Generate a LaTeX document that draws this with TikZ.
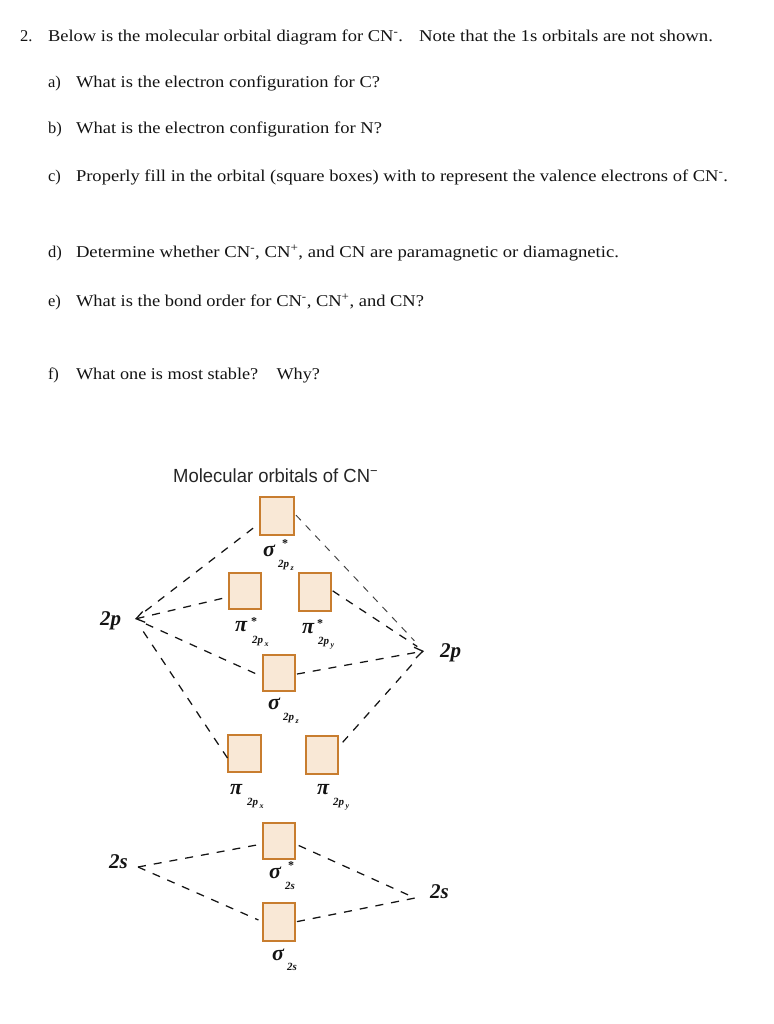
\documentclass[tikz,border=0pt]{standalone}
\usepackage{fontspec}
\setmainfont{Liberation Serif}
\setsansfont{Liberation Sans}
\usetikzlibrary{arrows.meta}
\definecolor{orbfill}{HTML}{F9E8D6}
\definecolor{orbline}{HTML}{C87D2F}
\definecolor{ink}{HTML}{141414}
\newcommand{\fitline}[2]{\resizebox{#1pt}{\height}{#2}}
\newcommand{\sups}[1]{\textsuperscript{#1}}
\tikzset{
  txt/.style={anchor=base west,inner sep=0pt,outer sep=0pt,text=ink,font=\fontsize{16.5}{16.5}\selectfont},
  ttl/.style={anchor=base west,inner sep=0pt,text=black!85,font=\sffamily\fontsize{19}{19}\selectfont},
  orb/.style={draw=orbline,fill=orbfill,line width=1.1pt,inner sep=0pt,outer sep=0pt},
  sym/.style={anchor=base west,inner sep=0pt,text=ink,font=\bfseries\itshape\fontsize{22}{22}\selectfont},
  ast/.style={anchor=base,inner sep=0pt,text=ink,font=\bfseries\fontsize{12}{12}\selectfont},
  sbs/.style={anchor=base west,inner sep=0pt,text=ink,font=\bfseries\itshape\fontsize{11}{11}\selectfont},
  lev/.style={anchor=base west,inner sep=0pt,text=ink,font=\bfseries\itshape\fontsize{21}{21}\selectfont},
  lnk/.style={draw=ink,line width=1.25pt,dash pattern=on 8pt off 8pt},
  thinlnk/.style={draw=ink!80,line width=.95pt,dash pattern=on 7pt off 7pt},
  tipped/.style={-{Straight Barb[length=8pt,width=11pt,line width=1.3pt]}}
}
\begin{document}
\begin{tikzpicture}[x=1pt,y=-1pt]
\useasboundingbox (0,0) rectangle (773,1024);
\fill[white] (0,0) rectangle (773,1024);
% question text
\node[txt] (q0) at (20,41.5) {2.};
\node[txt] (q1) at (48,41.5) {\fitline{355}{Below is the molecular orbital diagram for CN\sups{-}.}};
\node[txt] (q1b) at (419,41.5) {\fitline{294}{Note that the 1s orbitals are not shown.}};
\node[txt] (la) at (48,87.5) {a)};
\node[txt] (qa) at (76,87.5) {\fitline{304}{What is the electron configuration for C?}};
\node[txt] (lb) at (48,133.5) {b)};
\node[txt] (qb) at (76,133.5) {\fitline{306}{What is the electron configuration for N?}};
\node[txt] (lc) at (48,181.5) {c)};
\node[txt] (qc) at (76,181.5) {\fitline{652}{Properly fill in the orbital (square boxes) with to represent the valence electrons of CN\sups{-}.}};
\node[txt] (ld) at (48,257.5) {d)};
\node[txt] (qd) at (76,257.5) {\fitline{543}{Determine whether CN\sups{-}, CN\sups{+}, and CN are paramagnetic or diamagnetic.}};
\node[txt] (le) at (48,306.5) {e)};
\node[txt] (qe) at (76,306.5) {\fitline{348}{What is the bond order for CN\sups{-}, CN\sups{+}, and CN?}};
\node[txt] (lf) at (48,379.5) {f)};
\node[txt] (qf) at (76,379.5) {\fitline{244}{What one is most stable?\quad Why?}};
% title
\node[ttl] (title) at (173,482) {\fitline{205}{Molecular orbitals of CN\sups{−}}};
% orbitals
\node[orb,minimum width=34pt,minimum height=38pt] (ssp) at (277,516) {};
\node[orb,minimum width=32pt,minimum height=36pt] (pxs) at (245,591) {};
\node[orb,minimum width=32pt,minimum height=38pt] (pys) at (315,592) {};
\node[orb,minimum width=32pt,minimum height=36pt] (sgp) at (279,673) {};
\node[orb,minimum width=33pt,minimum height=37pt] (px) at (244.5,753.5) {};
\node[orb,minimum width=32pt,minimum height=38pt] (py) at (322,755) {};
\node[orb,minimum width=32pt,minimum height=36pt] (sss) at (279,841) {};
\node[orb,minimum width=32pt,minimum height=38pt] (sgs) at (279,922) {};
% anchors for the atomic levels
\coordinate (L2p) at (135,619);
\coordinate (R2p) at (424,651);
\coordinate (L2s) at (138,867);
\coordinate (R2s) at (415,898);
% connectors
\draw[lnk,shorten >=4pt,shorten <=13pt] (L2p) -- (ssp.202);
\draw[lnk,tipped,shorten <=7pt] (pxs.200) -- (L2p);
\draw[lnk,shorten >=4pt,shorten <=12pt] (L2p) -- (sgp.194);
\draw[lnk,shorten <=15pt] (L2p) -- (px.198);
\draw[thinlnk,shorten <=3pt,shorten >=14pt] (ssp.10) -- (R2p);
\draw[lnk,shorten <=2pt,shorten >=8pt] (pys.8) -- (R2p);
\draw[lnk,tipped,shorten <=2pt] (sgp.355) -- (R2p);
\draw[lnk,shorten <=7pt,shorten >=14pt] (py.25) -- (R2p);
\draw[lnk,shorten >=3pt] (L2s) -- (sss.190);
\draw[lnk,shorten >=5pt] (L2s) -- (sgs.180);
\draw[lnk,shorten <=4pt] (sss.350) -- (R2s);
\draw[lnk,shorten <=2pt] (sgs.0) -- (R2s);
% atomic level labels
\node[lev] (l2p) at (100,625) {2\textit{p}};
\node[lev] (r2p) at (440,657) {2\textit{p}};
\node[lev] (l2s) at (109,868) {2\textit{s}};
\node[lev] (r2s) at (430,898) {2\textit{s}};
% orbital labels
\node[sym] (a1) at (263,556) {σ};
\node[ast] (a2) at (285,547) {\smash{*}};
\node[sbs] (a3) at (278,567) {2\textit{p}\raisebox{-3pt}{\footnotesize\,z}};
\node[sym] (b1) at (235,631) {π};
\node[ast] (b2) at (254,625) {\smash{*}};
\node[sbs] (b3) at (252,643) {2\textit{p}\raisebox{-3pt}{\footnotesize\,x}};
\node[sym] (c1) at (302,633) {π};
\node[ast] (c2) at (320,627) {\smash{*}};
\node[sbs] (c3) at (318,644) {2\textit{p}\raisebox{-3pt}{\footnotesize\,y}};
\node[sym] (d1) at (268,709) {σ};
\node[sbs] (d3) at (283,720) {2\textit{p}\raisebox{-3pt}{\footnotesize\,z}};
\node[sym] (e1) at (230,794) {π};
\node[sbs] (e3) at (247,805) {2\textit{p}\raisebox{-3pt}{\footnotesize\,x}};
\node[sym] (f1) at (317,794) {π};
\node[sbs] (f3) at (333,805) {2\textit{p}\raisebox{-3pt}{\footnotesize\,y}};
\node[sym] (g1) at (269,878) {σ};
\node[ast] (g2) at (291,869) {\smash{*}};
\node[sbs] (g3) at (285,889) {2\textit{s}};
\node[sym] (h1) at (272,960) {σ};
\node[sbs] (h3) at (287,970) {2\textit{s}};
\end{tikzpicture}
\end{document}
